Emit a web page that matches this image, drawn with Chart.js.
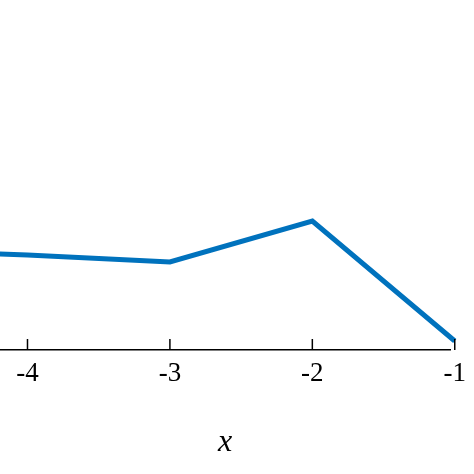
<!DOCTYPE html>
<html>
<head>
<meta charset="utf-8">
<script src="https://cdn.jsdelivr.net/npm/chart.js@4"></script>
<style>
  html, body { margin: 0; padding: 0; background: #fff; overflow: hidden; }
  #wrap { width: 474px; height: 474px; }
</style>
</head>
<body>
<div id="wrap"><canvas id="chart"></canvas></div>
<script>
// data (y in arbitrary units, axis baseline = 0)
const xValues = [-4.2, -4, -3, -2, -1];
const yValues = [96, 95, 88, 129, 9];
const tickValues = [-4, -3, -2, -1];

// inward tick marks on the bottom axis
const inwardTicks = {
  id: "inwardTicks",
  afterDraw(chart) {
    const ctx = chart.ctx;
    const xs = chart.scales.x;
    const bottom = chart.chartArea.bottom;
    ctx.save();
    ctx.strokeStyle = "#000";
    ctx.lineWidth = 1.5;
    tickValues.forEach(v => {
      const px = xs.getPixelForValue(v);
      ctx.beginPath();
      ctx.moveTo(px, bottom);
      ctx.lineTo(px, bottom - 11);
      ctx.stroke();
    });
    ctx.restore();
  }
};

const serif = "'Liberation Serif', 'DejaVu Serif', 'Times New Roman', serif";

new Chart(document.getElementById("chart"), {
  type: "line",
  data: {
    datasets: [{
      data: xValues.map((x, i) => ({ x: x, y: yValues[i] })),
      borderColor: "#0072BD",
      borderWidth: 5,
      pointRadius: 0,
      tension: 0,
      clip: false
    }]
  },
  options: {
    responsive: true,
    maintainAspectRatio: false,
    animation: false,
    layout: { padding: 0 },
    plugins: { legend: { display: false }, tooltip: { enabled: false } },
    scales: {
      x: {
        type: "linear",
        min: -4.193,
        max: -1.033,
        afterFit(scale) { scale.height = 124; },
        afterBuildTicks(scale) { scale.ticks = tickValues.map(v => ({ value: v })); },
        grid: { drawOnChartArea: false, drawTicks: false },
        border: { display: true, color: "#000", width: 1.5 },
        ticks: {
          color: "#000",
          padding: 8,
          font: { family: serif, size: 27 },
          maxRotation: 0,
          autoSkip: false
        },
        title: {
          display: true,
          text: "x",
          color: "#000",
          padding: { top: 20, bottom: 12 },
          font: { family: serif, size: 32, style: "italic" }
        }
      },
      y: {
        display: false,
        min: 0,
        max: 350
      }
    }
  },
  plugins: [inwardTicks]
});
</script>
</body>
</html>
